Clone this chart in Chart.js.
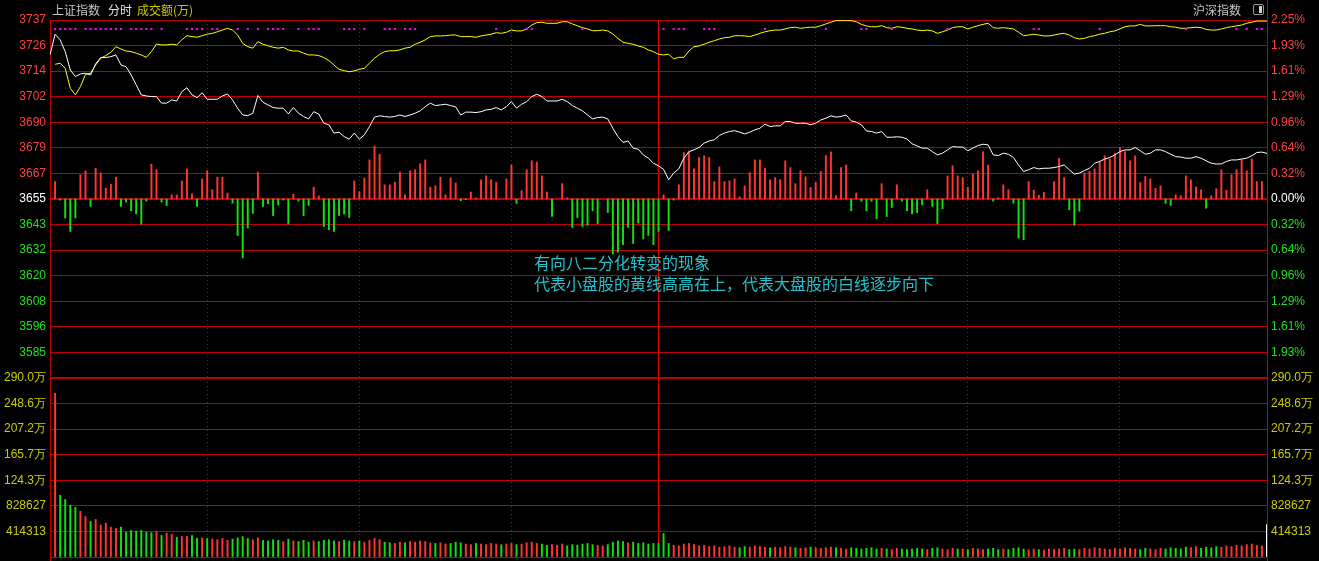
<!DOCTYPE html>
<html>
<head>
<meta charset="utf-8">
<script src="https://cdn.jsdelivr.net/npm/chart.js@4.4.1/dist/chart.umd.min.js"></script>
<style>
  html, body { margin: 0; padding: 0; background: #000; width: 1319px; height: 561px; overflow: hidden; position: relative; }
  canvas { position: absolute; left: 0; }
  #priceChart { top: 0; }
  #volChart { top: 350px; }
  .txt { position: absolute; white-space: nowrap; font-family: "Noto Sans CJK SC", sans-serif; }
  .hdr { font-size: 12px; line-height: 14px; top: 3px; }
  .note { left: 534px; top: 252px; font-size: 16px; line-height: 21px; color: #22c2cc; }
  .ico { position: absolute; left: 1253px; top: 4px; width: 9px; height: 9px; border: 1px solid #9a9a9a; border-radius: 2px; }
  .ico i { position: absolute; right: 1px; top: 1px; width: 3px; height: 7px; background: #d0d0d0; }
  .edge { position: absolute; width: 1px; background: #c00000; }
</style>
</head>
<body>
<canvas id="priceChart" width="1319" height="392"></canvas>
<canvas id="volChart" width="1319" height="221"></canvas>
<div class="edge" style="left:1267px;top:0;height:21px"></div>
<div class="edge" style="left:50px;top:556px;height:5px"></div>
<div class="edge" style="left:1267px;top:556px;height:5px"></div>
<div class="txt hdr" style="left:52px;color:#c4c4c4">上证指数</div>
<div class="txt hdr" style="left:108px;color:#e6e6e6">分时</div>
<div class="txt hdr" style="left:137px;color:#c8c800">成交额(万)</div>
<div class="txt hdr" style="left:1193px;color:#c4c4c4">沪深指数</div>
<div class="ico"><i></i></div>
<div class="txt note">有向八二分化转变的现象<br>代表小盘股的黄线高高在上，代表大盘股的白线逐步向下</div>
<script>
// 上证指数 (白线), one value per minute
const whiteLine = [
  3721.0,3730.5,3727.9,3722.5,3714.1,3711.1,3712.3,3712.6,3711.8,3716.9,
  3719.8,3719.8,3720.2,3721.0,3716.4,3715.6,3711.8,3707.3,3702.7,3702.2,
  3701.9,3701.9,3698.9,3698.9,3700.4,3699.9,3704.2,3706.0,3702.7,3701.4,
  3703.7,3700.7,3700.7,3700.7,3702.2,3703.1,3700.4,3696.6,3693.5,3693.2,
  3694.3,3702.4,3699.3,3698.1,3696.9,3696.6,3696.6,3694.0,3696.9,3694.3,
  3692.8,3691.7,3695.0,3693.9,3689.7,3689.0,3685.2,3685.6,3683.6,3682.4,
  3685.2,3682.4,3684.4,3688.2,3692.5,3693.1,3692.8,3692.5,3692.8,3693.5,
  3692.8,3693.5,3694.3,3695.4,3697.3,3698.9,3697.8,3698.1,3698.4,3697.8,
  3697.2,3693.5,3694.8,3694.8,3694.6,3695.0,3695.8,3696.1,3696.9,3695.8,
  3697.3,3699.6,3696.6,3698.4,3699.6,3701.9,3703.0,3701.9,3699.9,3699.9,
  3699.9,3700.7,3699.6,3697.8,3696.6,3695.4,3693.5,3691.7,3692.3,3692.5,
  3691.7,3687.4,3683.6,3680.9,3681.6,3678.3,3677.8,3675.2,3673.7,3671.4,
  3670.2,3668.6,3663.8,3666.9,3668.8,3673.7,3676.7,3677.5,3678.6,3680.6,
  3681.6,3682.1,3684.1,3685.2,3685.9,3686.3,3685.6,3684.8,3685.6,3686.7,
  3687.4,3689.3,3688.2,3688.5,3688.5,3690.5,3690.5,3689.7,3689.7,3689.7,
  3689.0,3689.7,3691.2,3692.0,3693.1,3692.5,3692.8,3693.5,3690.8,3690.2,
  3689.0,3686.2,3685.9,3685.2,3685.9,3683.3,3683.3,3683.5,3683.3,3682.5,
  3680.3,3679.3,3678.3,3678.3,3676.7,3675.2,3676.0,3677.5,3679.0,3678.8,
  3678.8,3677.1,3678.3,3679.5,3680.1,3679.8,3675.2,3674.9,3676.0,3675.5,
  3674.0,3670.6,3667.6,3668.4,3669.4,3668.8,3669.1,3669.1,3669.4,3669.9,
  3670.6,3668.4,3666.4,3666.9,3668.0,3669.1,3671.4,3672.2,3673.3,3674.0,
  3675.2,3676.7,3677.5,3677.5,3678.6,3677.1,3675.5,3676.0,3677.5,3677.5,
  3676.7,3675.5,3674.4,3674.2,3673.7,3673.7,3674.4,3673.7,3672.5,3671.4,
  3671.0,3671.1,3672.2,3672.9,3672.9,3673.3,3673.7,3674.8,3676.3,3676.5,
  3675.9
];

// 不含加权指数 (黄线)
const yellowLine = [
  null,3716.7,3717.2,3714.9,3705.7,3702.7,3706.5,3712.1,3712.6,3716.4,
  3719.5,3720.7,3722.2,3724.8,3723.7,3722.8,3722.5,3721.8,3721.0,3719.9,
  3722.5,3726.0,3725.6,3725.6,3725.9,3725.6,3727.9,3729.8,3729.4,3729.1,
  3729.8,3730.5,3730.9,3731.6,3732.4,3733.2,3732.4,3730.1,3726.3,3724.8,
  3724.1,3727.1,3725.9,3725.2,3724.5,3724.1,3724.5,3723.3,3722.8,3722.8,
  3721.8,3721.0,3721.0,3720.7,3719.8,3718.4,3716.4,3714.4,3713.8,3713.3,
  3713.7,3714.4,3714.9,3717.2,3719.5,3721.3,3722.5,3722.9,3722.9,3723.3,
  3724.1,3724.5,3725.9,3726.8,3727.9,3729.4,3729.7,3729.7,3729.8,3730.1,
  3730.1,3729.4,3729.4,3729.4,3729.1,3729.7,3730.1,3730.5,3731.2,3730.9,
  3731.4,3732.4,3732.0,3732.0,3732.9,3734.7,3735.8,3736.0,3735.5,3735.5,
  3735.5,3736.2,3736.2,3735.2,3734.4,3733.5,3732.9,3732.1,3732.1,3732.4,
  3732.0,3730.6,3728.6,3726.8,3726.3,3725.9,3725.1,3724.5,3723.3,3722.5,
  3721.3,3721.0,3721.3,3719.2,3719.9,3719.9,3722.8,3724.8,3725.1,3725.9,
  3726.8,3727.5,3728.3,3728.9,3729.1,3729.8,3729.8,3729.7,3729.4,3730.1,
  3730.9,3731.6,3732.1,3732.4,3732.4,3732.9,3733.5,3733.7,3733.2,3733.5,
  3733.7,3733.7,3734.4,3735.2,3736.0,3736.7,3736.7,3736.7,3736.7,3736.2,
  3735.0,3734.3,3733.9,3733.9,3734.4,3733.5,3733.2,3733.9,3733.7,3733.2,
  3732.9,3732.4,3732.1,3732.4,3732.0,3730.9,3731.6,3732.4,3733.5,3733.9,
  3733.9,3732.9,3733.7,3734.4,3735.0,3735.5,3733.5,3733.2,3733.5,3733.2,
  3732.9,3731.4,3729.8,3730.1,3730.5,3730.1,3729.7,3729.7,3730.1,3730.6,
  3730.9,3730.1,3728.9,3728.3,3728.6,3729.4,3729.8,3730.5,3730.9,3731.6,
  3732.0,3732.9,3733.9,3734.3,3734.3,3735.0,3734.3,3734.3,3734.4,3734.4,
  3734.4,3733.9,3733.7,3733.2,3733.2,3733.5,3733.7,3733.5,3732.7,3732.4,
  3732.4,3732.9,3733.5,3733.9,3734.3,3734.7,3735.5,3736.0,3736.5,3736.5,
  3736.5
];

// 红绿柱 (买卖力道), in index points above/below the previous close
const powerBars = [
  0,8.0,-0.5,-8.7,-14.9,-8.7,11.1,12.9,-3.4,14.1,
  11.9,5.0,6.8,10.0,-3.4,-1.4,-5.4,-6.8,-11.5,-1.0,
  16.0,13.4,-1.4,-3.0,1.9,1.9,8.3,13.8,2.4,-3.4,
  9.2,13.0,4.2,10.0,10.0,2.7,-1.9,-16.7,-27.0,-13.3,
  -6.6,12.3,-3.4,-2.2,-7.6,-2.7,-0.5,-11.5,2.2,-1.0,
  -7.6,-3.0,5.4,1.4,-12.6,-14.1,-14.9,-7.6,-6.9,-8.5,
  8.3,3.4,9.6,17.9,24.3,20.5,6.5,6.5,7.7,12.3,
  1.9,12.9,13.4,16.1,17.9,5.4,6.0,10.0,1.9,9.6,
  7.3,-0.8,-0.3,3.2,0.5,8.8,10.6,8.8,7.7,0,
  9.2,15.6,-2.0,3.8,13.4,17.5,16.9,10.6,3.2,-8.0,
  0,7.0,0.6,-13.0,-8.5,-12.6,-12.1,-5.3,-11.3,0,
  -6.2,-25.2,-24.3,-20.9,-13.0,-20.4,-11.0,-18.3,-16.7,-20.9,
  -14.9,1.9,-14.4,-0.5,6.5,21.3,21.7,13.8,19.0,19.8,
  19.0,8.0,14.7,8.0,8.3,9.2,1.0,6.0,12.1,17.9,
  17.9,14.1,8.8,9.8,8.8,17.5,14.4,7.0,12.9,10.2,
  5.3,7.7,12.6,19.9,21.6,1.5,14.4,15.6,-5.4,2.7,
  -1.0,-5.4,-1.0,-9.1,7.0,-8.0,-3.9,6.5,-1.0,-5.4,
  -6.8,-6.2,-2.7,4.2,-3.4,-11.3,-4.5,10.6,15.2,10.6,
  9.8,5.4,11.5,12.9,21.7,15.6,-1.0,0.6,6.5,4.2,
  -1.9,-17.9,-18.7,8.0,4.0,1.7,3.0,0,8.0,18.7,
  9.8,-4.9,-12.1,-5.6,11.9,12.6,13.8,17.2,19.8,18.3,
  21.0,23.6,21.7,17.5,19.8,7.6,10.3,9.2,4.9,6.0,
  -2.0,-3.0,1.9,1.5,10.6,8.8,5.6,4.2,-4.2,1.5,
  4.7,13.4,4.0,11.1,13.4,17.9,12.9,18.4,8.0,8.0,
  0
];

// minutes that carry the magenta signal dot
const signalMinutes = [1,2,3,4,5,7,8,9,10,11,12,13,14,16,17,18,19,20,22,27,28,29,30,32,33,
  37,39,41,43,44,45,46,49,51,52,53,58,59,60,62,66,67,68,70,71,72,88,94,95,105,
  121,123,124,125,129,130,131,141,153,160,161,166,177,194,195,207,224,234,236,238,239];
const signalLevel = 3732.9;

// 成交额 (万)
const volume = [
  0,265.3,100.0,93.0,83.8,80.6,74.1,65.5,57.5,60.7,
  51.5,54.7,48.3,46.2,48.3,40.2,43.0,41.8,43.0,40.2,
  39.2,41.8,34.9,38.6,37.0,32.1,33.3,33.3,34.9,30.5,
  31,30,29,28,30,27,29,31,33,30,
  28,31,27,26,28,27,25,29,26,25,
  27,24,26,25,27,28,26,25,27,26,
  25,26,24,27,30,28,24,23,22,24,
  23,25,24,26,25,23,22,23,21,22,
  24,23,21,20,22,21,20,22,21,20,
  21,22,20,21,23,24,22,21,19,20,
  19,21,18,20,19,21,22,20,19,18,
  20,24,26,25,23,24,22,23,21,22,
  22,38,22,19,18,21,22,20,18,19,
  17,18,16,17,18,16,15,17,16,18,
  17,16,15,16,15,17,16,15,14,15,
  16,15,14,15,16,15,14,13,15,14,
  13,14,15,13,14,13,12,14,13,12,
  13,14,13,12,14,15,13,12,14,13,
  13,12,14,13,12,13,14,12,13,12,
  14,15,13,12,13,12,11,13,12,13,
  14,12,13,12,14,13,15,14,13,12,
  14,13,15,14,13,12,14,13,12,14,
  13,15,14,13,16,15,17,14,16,15,
  17,16,18,17,19,18,20,21,19,18,
  52.7
];

const priceLabels = ['3737','3726','3714','3702','3690','3679','3667','3655','3643','3632','3620','3608','3596','3585'];
const pctLabels = ['2.25%','1.93%','1.61%','1.29%','0.96%','0.64%','0.32%','0.00%','0.32%','0.64%','0.96%','1.29%','1.61%','1.93%'];
const volLabels = ['290.0万','248.6万','207.2万','165.7万','124.3万','828627','414313',''];
const timeLines = [31, 61, 91, 120, 151, 181, 211];

const priceBase = 3655;
const priceTop = 3737;
const volTop = 290;

const RED = '#ff3434';
const GREEN = '#10e010';
const GRID = '#c00000';

Chart.defaults.font.family = 'Liberation Sans';
Chart.defaults.font.size = 12;

const priceStep = (priceTop - priceBase) / 7;
const priceTicks = priceLabels.map((_, j) => priceTop - j * priceStep);
const volTicks = volLabels.map((_, j) => volTop - j * volTop / 7);

function timeAxis() {
  return {
    type: 'linear',
    min: 0,
    max: 240,
    offset: false,
    afterBuildTicks: s => { s.ticks = timeLines.map(v => ({ value: v })); },
    ticks: { display: false },
    grid: {
      offset: false,
      drawTicks: false,
      color: c => (c.tick && c.tick.value === 120) ? '#e00000' : '#b00000'
    },
    border: { display: false, dash: c => (c.tick && c.tick.value === 120) ? [] : [1, 3] }
  };
}

function sideAxis(pos, ticks, labels, colorFn, width, withGrid, thickIndex, min, max) {
  return {
    position: pos,
    min: min,
    max: max,
    afterBuildTicks: s => { s.ticks = ticks.map(v => ({ value: v })); },
    afterFit: s => { s.width = width; },
    ticks: {
      autoSkip: false,
      padding: 4,
      color: colorFn,
      callback: (v, i) => labels[i]
    },
    grid: {
      drawTicks: false,
      drawOnChartArea: withGrid,
      color: GRID,
      lineWidth: c => c.index === thickIndex ? 2 : 1
    },
    border: { color: GRID }
  };
}

const priceColor = c => c.index < 7 ? '#ff4040' : (c.index === 7 ? '#ffffff' : '#20e020');
const priceMin = priceTop - 14 * priceStep;

new Chart(document.getElementById('priceChart'), {
  type: 'line',
  data: {
    datasets: [
      {
        type: 'line',
        data: whiteLine.map((v, i) => ({ x: i, y: v })),
        borderColor: '#ffffff',
        borderWidth: 1,
        pointRadius: 0,
        order: 1
      },
      {
        type: 'line',
        data: yellowLine.map((v, i) => ({ x: i, y: v })),
        borderColor: '#ffff00',
        borderWidth: 1,
        pointRadius: 0,
        order: 2
      },
      {
        type: 'scatter',
        data: signalMinutes.map(m => ({ x: m, y: signalLevel })),
        pointStyle: 'rect',
        pointRadius: 1.5,
        borderWidth: 0,
        backgroundColor: '#ff00ff',
        order: 0
      },
      {
        type: 'bar',
        data: powerBars.map((v, i) => ({ x: i, y: [priceBase, priceBase + v] })).filter(p => p.y[1] !== priceBase),
        backgroundColor: c => (c.raw && c.raw.y[1] > priceBase) ? RED : GREEN,
        barThickness: 1.3,
        borderWidth: 0,
        grouped: false,
        order: 3
      }
    ]
  },
  options: {
    responsive: false,
    animation: false,
    events: [],
    layout: { padding: { top: 20, bottom: 14, left: 0, right: 0 } },
    plugins: { legend: { display: false }, tooltip: { enabled: false } },
    scales: {
      x: timeAxis(),
      y: sideAxis('left', priceTicks, priceLabels, priceColor, 50, true, 7, priceMin, priceTop),
      yp: sideAxis('right', priceTicks, pctLabels, priceColor, 52, false, 7, priceMin, priceTop)
    }
  }
});

const volColor = '#cccc00';
const lastMinute = volume.length - 1;

new Chart(document.getElementById('volChart'), {
  type: 'bar',
  data: {
    datasets: [{
      data: volume.map((v, i) => ({ x: i, y: v })).filter(p => p.y > 0),
      backgroundColor: c => {
        const i = c.raw ? c.raw.x : 0;
        if (i === lastMinute) return '#ffffff';
        const d = i > 0 ? whiteLine[i] - whiteLine[i - 1] : 0;
        return d >= 0 ? RED : GREEN;
      },
      barThickness: 1.3,
      borderWidth: 0
    }]
  },
  options: {
    responsive: false,
    animation: false,
    events: [],
    layout: { padding: { top: 28, bottom: 14, left: 0, right: 0 } },
    plugins: { legend: { display: false }, tooltip: { enabled: false } },
    scales: {
      x: timeAxis(),
      y: sideAxis('left', volTicks, volLabels, volColor, 50, true, 0, 0, volTop),
      yr: sideAxis('right', volTicks, volLabels, volColor, 52, false, 0, 0, volTop)
    }
  }
});
</script>
</body>
</html>
